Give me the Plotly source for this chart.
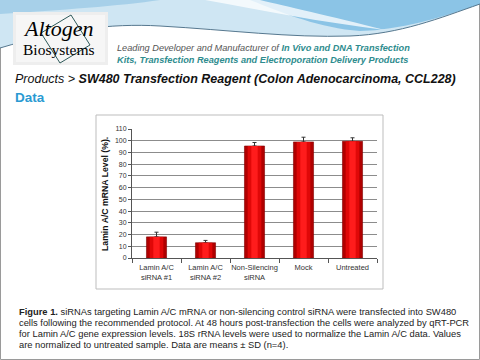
import plotly.graph_objects as go

categories = ["Lamin A/C<br>siRNA #1", "Lamin A/C<br>siRNA #2", "Non-Silencing<br>siRNA", "Mock", "Untreated"]
values = [18, 13, 95.5, 99, 99.5]
errors = [4, 2, 3, 4, 3]
y_ticks = list(range(0, 111, 10))

caption_lines = [
    "<b>Figure 1.</b> siRNAs targeting Lamin A/C mRNA or non-silencing control siRNA were transfected into SW480",
    "cells following the recommended protocol. At 48 hours post-transfection the cells were analyzed by qRT-PCR",
    "for Lamin A/C gene expression levels. 18S rRNA levels were used to normalize the Lamin A/C data. Values",
    "are normalized to untreated sample. Data are means \u00b1 SD (n=4).",
]

W, H = 480, 360
L, R, T, B = 132, 377, 129, 258
PW, PH = R - L, B - T


def X(px):
    return (px - L) / PW


def Y(py):
    return (B - py) / PH


def path(cmds):
    out = []
    for c in cmds:
        op, pts = c[0], c[1:]
        s = op + " " + " ".join(f"{X(a):.4f},{Y(b):.4f}" for a, b in pts)
        out.append(s)
    return " ".join(out)


fig = go.Figure()
fig.add_trace(go.Bar(
    x=categories, y=values, width=0.41,
    marker=dict(color="#b00000", line=dict(color="#800000", width=0.6)),
    error_y=dict(type="data", array=errors, arrayminus=[0] * len(errors),
                 color="#333333", thickness=1, width=2),
    hoverinfo="skip",
))
fig.add_trace(go.Bar(
    x=categories, y=values, width=0.28,
    marker=dict(color="#e00808", line=dict(width=0)),
    hoverinfo="skip",
))
fig.add_trace(go.Bar(
    x=categories, y=values, width=0.13,
    marker=dict(color="#ff1c1c", line=dict(width=0)),
    hoverinfo="skip",
))

shapes = []
# frame
shapes.append(dict(type="rect", xref="paper", yref="paper", layer="below",
                   x0=X(0.5), x1=X(479.5), y0=Y(0.5), y1=Y(359.5),
                   line=dict(color="#9a9a9a", width=1), fillcolor="#ffffff"))
# top swoosh
shapes.append(dict(type="path", xref="paper", yref="paper", layer="below",
                   path=path([("M", (0, 0)), ("L", (480, 0)), ("L", (480, 4)),
                              ("C", (440, 18), (400, 34), (350, 36)),
                              ("C", (290, 38), (230, 30), (160, 26)),
                              ("C", (110, 23), (60, 30), (0, 48)), ("Z",)]),
                   fillcolor="#cfe6f3", line=dict(width=0)))
shapes.append(dict(type="path", xref="paper", yref="paper", layer="below",
                   path=path([("M", (0, 0)), ("L", (160, 0)),
                              ("C", (120, 6), (60, 10), (0, 14)), ("Z",)]),
                   fillcolor="#9ccbe6", opacity=0.8, line=dict(width=0)))
shapes.append(dict(type="path", xref="paper", yref="paper", layer="below",
                   path=path([("M", (250, 0)), ("L", (480, 0)), ("L", (480, 4)),
                              ("C", (440, 18), (400, 30), (360, 31)),
                              ("C", (320, 28), (285, 14), (250, 0)), ("Z",)]),
                   fillcolor="#7fbde3", opacity=0.85, line=dict(width=0)))
shapes.append(dict(type="path", xref="paper", yref="paper", layer="below",
                   path=path([("M", (205, 0)), ("C", (260, 10), (320, 22), (385, 30)),
                              ("C", (330, 16), (285, 6), (260, 0)), ("Z",)]),
                   fillcolor="#ffffff", opacity=0.75, line=dict(width=0)))
shapes.append(dict(type="path", xref="paper", yref="paper", layer="below",
                   path=path([("M", (0, 48)), ("C", (60, 30), (110, 23), (160, 26)),
                              ("C", (230, 30), (290, 38), (350, 36)),
                              ("C", (400, 34), (440, 18), (480, 4))]),
                   line=dict(color="#56788f", width=1)))
# logo box
shapes.append(dict(type="rect", xref="paper", yref="paper", layer="below",
                   x0=X(13), x1=X(108), y0=Y(12), y1=Y(65),
                   fillcolor="#eeeeee", line=dict(width=0)))
shapes.append(dict(type="rect", xref="paper", yref="paper", layer="below",
                   x0=X(16), x1=X(105), y0=Y(15), y1=Y(62),
                   fillcolor="#f6f6f6", line=dict(width=0)))
shapes.append(dict(type="path", xref="paper", yref="paper", layer="below",
                   path=path([("M", (71, 15)), ("L", (90, 45)), ("L", (60, 63)),
                              ("L", (41, 33)), ("Z",)]),
                   line=dict(color="#2f5a5a", width=1)))
# chart box
shapes.append(dict(type="rect", xref="paper", yref="paper", layer="below",
                   x0=X(96), x1=X(383), y0=Y(115), y1=Y(289),
                   fillcolor="#ffffff", line=dict(color="#bdbdbd", width=1)))

ann = []


def text(px, py, s, size, color="#000", family="Arial", xanchor="left", **kw):
    ann.append(dict(x=X(px), y=Y(py), xref="paper", yref="paper", text=s, showarrow=False,
                    xanchor=xanchor, yanchor="middle", align="left",
                    font=dict(size=size, color=color, family=family), **kw))


text(21, 28.5, "<i>Altogen</i>", 22, family="Liberation Serif")
text(21, 49.5, "Biosystems", 15.5, family="Liberation Serif")
text(115, 48, "<i>Leading Developer and Manufacturer of </i><b><i><span style='color:#2e8c8e'>In Vivo and DNA Transfection</span></i></b>",
     9.2, color="#555555")
text(115, 60, "<b><i>Kits, Transfection Reagents and Electroporation Delivery Products</i></b>",
     9.2, color="#2e8c8e")
text(13, 79, "<i>Products &gt; </i><b><i>SW480 Transfection Reagent (Colon Adenocarcinoma, CCL228)</i></b>",
     12.5, color="#111111")
text(13, 97, "<b>Data</b>", 13.5, color="#2a9ad2")
text(105, 194, "<b>Lamin A/C mRNA Level (%).</b>", 8.7, color="#111111", xanchor="center", textangle=-90)
for i, line in enumerate(caption_lines):
    text(17, 312 + i * 11, line, 9.35, color="#222222")

fig.update_layout(
    width=W, height=H,
    margin=dict(l=L, r=W - R, t=T, b=H - B, pad=0),
    paper_bgcolor="#ffffff", plot_bgcolor="rgba(0,0,0,0)",
    barmode="overlay", showlegend=False,
    shapes=shapes, annotations=ann,
    xaxis=dict(type="category", showgrid=False, showline=True, linecolor="#555555",
               ticks="outside", tickson="boundaries", ticklen=4, tickcolor="#555555",
               tickangle=0, ticklabelstandoff=2,
               tickfont=dict(size=7.5, color="#333333", family="Arial")),
    yaxis=dict(range=[0, 110], tickvals=y_ticks, showgrid=True, gridcolor="#8c8c8c", gridwidth=1,
               showline=True, linecolor="#555555", ticks="outside", ticklen=3, tickcolor="#555555",
               tickfont=dict(size=7, color="#333333", family="Arial"), zeroline=False),
)

fig.write_html("out.html", config={"displayModeBar": False},
               post_script="document.body.style.margin='0';document.body.style.padding='0';")
